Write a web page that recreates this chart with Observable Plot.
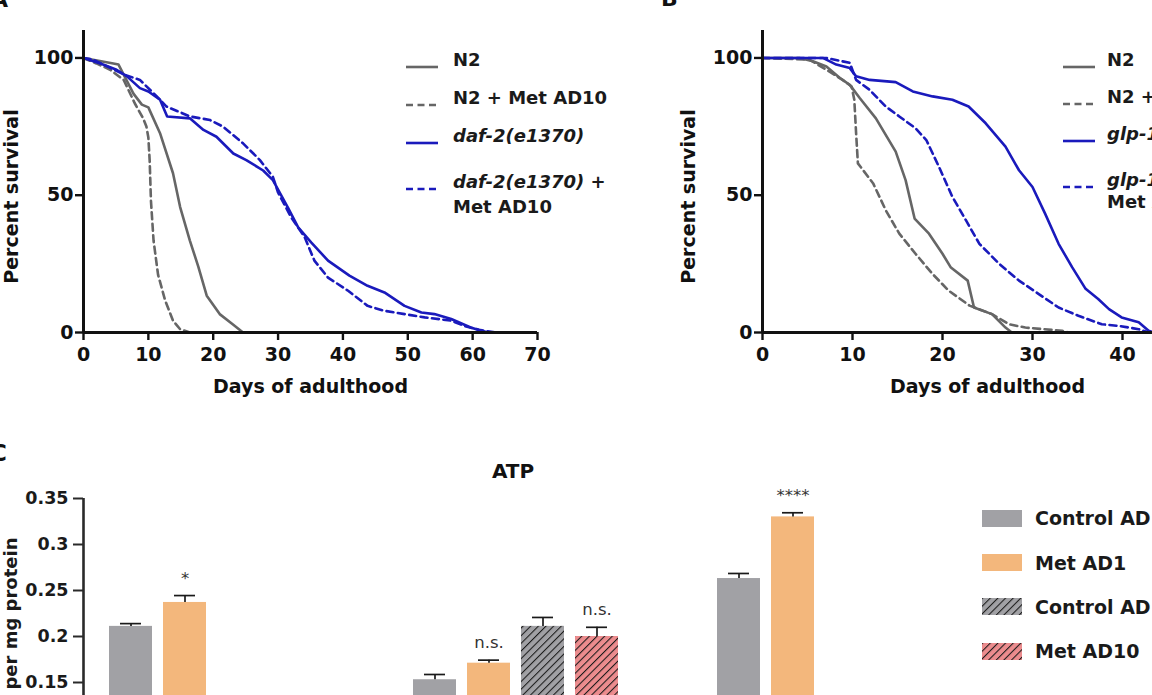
<!DOCTYPE html>
<html>
<head>
<meta charset="utf-8">
<script src="https://cdn.jsdelivr.net/npm/d3@7"></script>
<script src="https://cdn.jsdelivr.net/npm/@observablehq/plot@0.6"></script>
<style>
html, body { margin: 0; padding: 0; background: #fff; }
#page { position: relative; width: 1152px; height: 695px; overflow: hidden; font-family: "DejaVu Sans", sans-serif; color: #111; }
#page svg { max-width: none !important; }
.abs { position: absolute; }
.letter { position: absolute; font-weight: bold; line-height: 1; color: #111; }
.legtext { position: absolute; font-weight: bold; font-size: 18px; line-height: 18px; white-space: nowrap; color: #1a1a1a; }
.legtextC { position: absolute; font-weight: bold; font-size: 19px; line-height: 19px; white-space: nowrap; color: #1a1a1a; }
</style>
</head>
<body>
<div id="page"></div>
<script>
// ---------------- Panel A: survival (daf-2) ----------------
const daysLabel = "Days of adulthood";
const survivalLabel = "Percent survival";
const aTicks = [0, 10, 20, 30, 40, 50, 60, 70];
const aN2 = [[0,100],[4.6,98],[5.4,97.6],[7.7,87],[9,83],[10,82],[11.8,72.6],[13.8,58],[14.9,45.7],[16.4,33.5],[17.7,24],[19,13.4],[21,6.7],[23,3],[24.6,0]];
const aN2Met = [[0,100],[2,98],[4.1,95.7],[6.2,92],[7.9,83.5],[9.2,78],[9.7,75],[10,71],[10.2,62.8],[10.4,48],[10.8,33.5],[11.5,21],[12.6,11.6],[13.8,4.3],[14.9,1.2],[16.4,0]];
const aDaf2 = [[0,100],[2.6,98],[5.1,95.7],[6.7,93.3],[8.7,89],[10,87.8],[11.8,84.8],[12.9,78.7],[16.4,78],[18.5,73.8],[20.5,71.3],[23.1,65.2],[25.1,62.8],[27.7,59],[29.2,55.5],[30,52],[31.5,45.6],[33.1,38.3],[35.1,32.8],[37.7,26.2],[41,20.7],[43.8,17],[46.4,14.6],[49.5,9.7],[52.1,7.3],[54.1,6.7],[56.7,4.9],[59.7,1.8],[61.3,0.6],[62.5,0]];
const aDaf2Met = [[0,100],[1.5,99.4],[6.2,94],[8.7,92],[11.3,86],[12.8,82.3],[16.4,78.7],[19.5,77.4],[21.5,75],[24.6,68.9],[27.2,62.8],[29.2,56.7],[30,51],[32,42],[34.1,34.7],[35.6,26.2],[37.7,20],[40.8,15.2],[43.8,9.7],[46.4,7.9],[49.5,6.7],[52.6,5.5],[56.7,4.3],[58.7,2.4],[61,1],[63.5,0]];
const legendA = ["N2", "N2 + Met AD10", "daf-2(e1370)", "daf-2(e1370) + Met AD10"];

// ---------------- Panel B: survival (glp-1) ----------------
const bTicks = [0, 10, 20, 30, 40];
const bN2 = [[0,100],[4.1,100],[5.6,98.8],[7.1,96.9],[8.6,92.7],[9.7,90.2],[10.8,85.4],[12.6,78],[14.8,65.9],[15.9,55.5],[16.9,41.5],[18.5,36],[20,28.7],[20.9,23.8],[22.8,18.9],[23.5,9.1],[25.5,6.7],[27,1.8],[27.7,0]];
const bN2Met = [[0,100],[5.2,99.4],[7.1,95.7],[8.9,92],[9.9,89.6],[10.2,84.8],[10.4,72.6],[10.6,61.6],[12.3,54.3],[13.7,44.5],[15.2,36],[17,28.7],[18.9,21.3],[20.7,15.2],[23,9.8],[25.5,6.7],[27.4,3],[29.2,1.8],[33.3,0.6],[34,0]];
const bGlp1 = [[0,100],[6.7,100],[8.2,97.6],[9.7,96.3],[10.4,93.3],[11.9,92],[14.8,91.2],[16.7,87.8],[18.9,86],[21.1,84.8],[22.9,82.3],[24.8,76.2],[27,67.7],[28.5,59.1],[30,53],[31.4,43.3],[32.9,32.3],[34.4,23.8],[35.9,15.9],[37.3,12.2],[38.5,8.5],[39.9,5.5],[41.8,3.7],[42.9,0.6],[43.5,0]];
const bGlp1Met = [[0,100],[7.1,100],[9.7,98.2],[10.4,92],[11.9,88.4],[13.7,82.3],[15.2,78.7],[17,74.4],[18.2,70.1],[19.6,60.4],[21.1,49.4],[22.6,40.9],[24.1,32.3],[26.3,25],[28.5,18.9],[30.7,14],[32.9,9.1],[35.1,6.1],[37.7,3],[39.6,2.4],[41.8,1.2],[42.9,0]];
const legendB = ["N2", "N2 + Met AD10", "glp-1(e2141)", "glp-1(e2141) + Met AD10"];

// ---------------- Panel C: ATP bars ----------------
const atpTitle = "ATP";
const atpLabel = "nmol ATP per mg protein";
const atpGroups = ["N2", "daf-2(e1370)", "glp-1(e2141)"];
const atpConditions = ["Control AD1", "Met AD1", "Control AD10", "Met AD10"];
const atpGroupOf = ["N2", "N2", "daf-2(e1370)", "daf-2(e1370)", "daf-2(e1370)", "daf-2(e1370)", "glp-1(e2141)", "glp-1(e2141)"];
const atpCondOf = ["Control AD1", "Met AD1", "Control AD1", "Met AD1", "Control AD10", "Met AD10", "Control AD1", "Met AD1"];
const atpMean = [0.211, 0.237, 0.153, 0.171, 0.211, 0.200, 0.263, 0.330];
const atpSem = [0.003, 0.0075, 0.0057, 0.0033, 0.0097, 0.010, 0.0055, 0.0045];
const atpSig = ["", "*", "", "n.s.", "", "n.s.", "", "****"];
const atpTicks = [0, 0.05, 0.1, 0.15, 0.2, 0.25, 0.3, 0.35];

// ---------------- styling ----------------
const FONT = '"DejaVu Sans", sans-serif';
const GRAY = "#666666", BLUE = "#1a1abc";
const DASH = "7,4.5";
const atpColors = ["#a1a1a5", "#f3b77c", "url(#hatchGray)", "url(#hatchRed)"];

const page = document.getElementById("page");
function place(node, left, top) {
  const d = document.createElement("div");
  d.className = "abs";
  d.style.left = left + "px";
  d.style.top = top + "px";
  d.appendChild(node);
  page.appendChild(d);
  return d;
}

function survival(seriesList, xMax, ticks, width, marginLeft, marginRight, labelDx) {
  const marks = seriesList.map(s => Plot.line(s.data, {
    x: d => d[0], y: d => d[1], stroke: s.color, strokeWidth: 2.6,
    strokeDasharray: s.dash, strokeLinejoin: "round"
  }));
  marks.push(
    Plot.ruleX([0], {stroke: "#111", strokeWidth: 3}),
    Plot.ruleY([0], {stroke: "#111", strokeWidth: 3}),
    Plot.axisX({ticks, tickSize: 8, tickPadding: 7, stroke: "#111", strokeWidth: 2.4,
      fill: "#111", fontSize: 19, fontWeight: "bold", label: daysLabel, labelAnchor: "center", labelOffset: 60, labelArrow: "none"}),
    Plot.axisY({ticks: [0, 50, 100], tickSize: 8, tickPadding: 2, stroke: "#111", strokeWidth: 2.4,
      fill: "#111", fontSize: 19, fontWeight: "bold", label: null}),
    Plot.text([survivalLabel], {text: d => d, frameAnchor: "left", rotate: -90, lineAnchor: "top", textAnchor: "middle",
      dx: -labelDx, dy: 15, fontSize: 19, fontWeight: "bold", fill: "#111"})
  );
  return Plot.plot({
    width, height: 400, marginTop: 30, marginBottom: 68, marginLeft, marginRight,
    x: {domain: [0, xMax]}, y: {domain: [0, 110]},
    style: {fontFamily: FONT, background: "transparent", overflow: "visible", maxWidth: "none"},
    marks
  });
}

const plotA = survival([
  {data: aN2, color: GRAY, dash: null},
  {data: aN2Met, color: GRAY, dash: DASH},
  {data: aDaf2, color: BLUE, dash: null},
  {data: aDaf2Met, color: BLUE, dash: DASH}
], 70, aTicks, 560, 83, 23, 79.5);
place(plotA, 0, 0);

const plotB = survival([
  {data: bN2, color: GRAY, dash: null},
  {data: bN2Met, color: GRAY, dash: DASH},
  {data: bGlp1, color: BLUE, dash: null},
  {data: bGlp1Met, color: BLUE, dash: DASH}
], 50, bTicks, 570, 92, 28, 81.5);
place(plotB, 670, 0);

// legends for A and B
function legendLabelHTML(label) {
  const m = label.match(/^((?:daf|glp)-\d\([a-z0-9]+\))(.*)$/);
  if (!m) return label;
  return `<i>${m[1]}</i>${m[2]}`;
}
function survivalLegend(labels, lineLeft, textLeft, rows) {
  const styles = [{c: GRAY, d: null}, {c: GRAY, d: DASH}, {c: BLUE, d: null}, {c: BLUE, d: DASH}];
  labels.forEach((label, i) => {
    const cy = rows[i][0];
    const sw = document.createElementNS("http://www.w3.org/2000/svg", "svg");
    sw.setAttribute("width", 32); sw.setAttribute("height", 8);
    sw.innerHTML = `<line x1="0" y1="4" x2="32" y2="4" stroke="${styles[i].c}" stroke-width="2.6" ${styles[i].d ? `stroke-dasharray="${styles[i].d}"` : ""}/>`;
    place(sw, lineLeft, cy - 4);
    const parts = label.split(" + ");
    let lines;
    if (i === 3) lines = [legendLabelHTML(parts[0]) + " +", parts[1]];
    else lines = [legendLabelHTML(label)];
    lines.forEach((html, j) => {
      const t = document.createElement("div");
      t.className = "legtext";
      t.style.left = textLeft + "px";
      t.style.top = (rows[i][j] - 8.7) + "px";
      t.innerHTML = html;
      page.appendChild(t);
    });
  });
}
survivalLegend(legendA, 406, 453, [[60], [98], [136], [182, 207]]);
survivalLegend(legendB, 1063, 1107, [[60], [97], [134], [180, 202]]);

// ---------------- Panel C ----------------
const atpRows = atpMean.map((m, i) => ({
  group: atpGroupOf[i], cond: atpCondOf[i], mean: m, top: m + atpSem[i], sig: atpSig[i]
}));

const barsC = Plot.plot({
  width: 1152, height: 420, marginTop: 68, marginBottom: 30, marginLeft: 83, marginRight: 205,
  fx: {domain: atpGroups, axis: null, paddingInner: 0.32, paddingOuter: 0.079},
  x: {domain: atpConditions, axis: null, paddingInner: 0.2, paddingOuter: 0},
  y: {domain: [0, 0.35], axis: null},
  color: {domain: atpConditions, range: atpColors},
  style: {fontFamily: FONT, background: "transparent", overflow: "visible", maxWidth: "none"},
  marks: [
    Plot.barY(atpRows, {fx: "group", x: "cond", y: "mean", fill: "cond"}),
    Plot.ruleX(atpRows, {fx: "group", x: "cond", y1: "mean", y2: "top", stroke: "#1a1a1a", strokeWidth: 1.7}),
    Plot.tickY(atpRows, {fx: "group", x: "cond", y: "top", stroke: "#1a1a1a", strokeWidth: 1.7, inset: 11}),
    Plot.text(atpRows.filter(d => d.sig), {fx: "group", x: "cond", y: "top", text: "sig", dy: -12,
      lineAnchor: "bottom", fontSize: 16.5, fill: "#333"})
  ]
});
const patterns = `
<pattern id="hatchGray" patternUnits="userSpaceOnUse" width="5.4" height="5.4" patternTransform="rotate(45)">
  <rect width="5.4" height="5.4" fill="#a1a1a5"></rect>
  <line x1="0" y1="0" x2="0" y2="5.4" stroke="#1a1a1a" stroke-width="2.1"></line>
</pattern>
<pattern id="hatchRed" patternUnits="userSpaceOnUse" width="5.4" height="5.4" patternTransform="rotate(45)">
  <rect width="5.4" height="5.4" fill="#ec8c8e"></rect>
  <line x1="0" y1="0" x2="0" y2="5.4" stroke="#1a1a1a" stroke-width="2.1"></line>
</pattern>`;
d3.select(barsC).insert("defs", ":first-child").html(patterns);
place(barsC, 0, 430);

const axisC = Plot.plot({
  width: 120, height: 420, marginTop: 68, marginBottom: 30, marginLeft: 83, marginRight: 20,
  x: {domain: [0, 1], axis: null}, y: {domain: [0, 0.35], axis: null},
  style: {fontFamily: FONT, background: "transparent", overflow: "visible", maxWidth: "none"},
  marks: [
    Plot.ruleX([0], {stroke: "#2a2a2a", strokeWidth: 2.6}),
    Plot.axisY({ticks: atpTicks, tickFormat: d => String(+d.toFixed(2)), tickSize: 10, tickPadding: 5,
      stroke: "#2a2a2a", strokeWidth: 2, fill: "#1a1a1a", fontSize: 17.5, fontWeight: "bold", label: null}),
    Plot.text([atpLabel], {text: d => d, frameAnchor: "top-left", rotate: -90, textAnchor: "end", lineAnchor: "top",
      dx: -79.5, dy: 39, fontSize: 18, fontWeight: "bold", fill: "#1a1a1a"})
  ]
});
place(axisC, 0, 430);

// title
const title = document.createElement("div");
title.className = "letter";
title.style.cssText += "font-size:20px;width:100px;text-align:center;";
title.textContent = atpTitle;
place(title, 463, 461);

// legend C
atpConditions.forEach((c, i) => {
  const cy = 518.5 + i * 44.2;
  const sw = document.createElementNS("http://www.w3.org/2000/svg", "svg");
  sw.setAttribute("width", 40); sw.setAttribute("height", 17);
  sw.innerHTML = `<rect width="40" height="17" fill="${atpColors[i]}"></rect>`;
  place(sw, 982, cy - 8.5);
  const t = document.createElement("div");
  t.className = "legtextC";
  t.style.left = "1035px";
  t.style.top = (cy - 9.2) + "px";
  t.textContent = c;
  page.appendChild(t);
});

// panel letters
[["A", -9, -11, 22], ["B", 661, -12, 22], ["C", -10, 442, 23]].forEach(([s, l, t, f]) => {
  const e = document.createElement("div");
  e.className = "letter";
  e.style.fontSize = f + "px";
  e.textContent = s;
  place(e, l, t);
});
</script>
</body>
</html>
